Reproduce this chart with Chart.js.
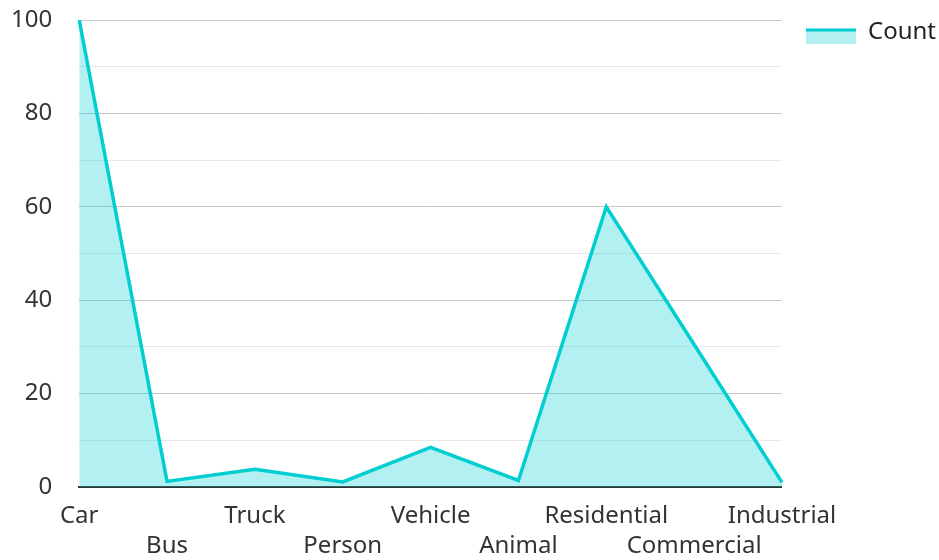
<!DOCTYPE html>
<html>
<head>
<meta charset="utf-8">
<script src="https://cdn.jsdelivr.net/npm/chart.js@4"></script>
<style>
  html, body { margin: 0; padding: 0; background: #fff; }
  #wrap { width: 939px; height: 560px; }
</style>
</head>
<body>
<div id="wrap"><canvas id="countChart" width="939" height="560"></canvas></div>
<script>
// Data
const categories = ['Car', 'Bus', 'Truck', 'Person', 'Vehicle', 'Animal', 'Residential', 'Commercial', 'Industrial'];
const counts = [100, 1.2, 3.8, 1.1, 8.5, 1.4, 60, 30.5, 1];
const seriesName = 'Count';

const lineColor = '#00CED1';
const fillColor = 'rgba(0, 206, 209, 0.3)';

// legend swatch: light fill with a thick line on top
// (blank space on the left and top to place it like the reference)
const swatch = document.createElement('canvas');
swatch.width = 74;
swatch.height = 23;
const sctx = swatch.getContext('2d');
sctx.fillStyle = fillColor;
sctx.fillRect(24, 8, 50, 15);
sctx.fillStyle = lineColor;
sctx.fillRect(24, 8, 50, 3);

Chart.defaults.font.family = '"Noto Sans", "Open Sans", sans-serif';
Chart.defaults.color = '#333';

new Chart(document.getElementById('countChart'), {
    type: 'line',
    data: {
        labels: categories,
        datasets: [{
            label: seriesName,
            data: counts,
            borderColor: lineColor,
            backgroundColor: fillColor,
            borderWidth: 3.5,
            fill: 'origin',
            pointRadius: 0,
            tension: 0
        }]
    },
    options: {
        responsive: false,
        animation: false,
        layout: { padding: { top: 20, right: -7, left: 11, bottom: 0 } },
        plugins: {
            legend: {
                position: 'right',
                align: 'start',
                labels: {
                    font: { size: 24 },
                    color: '#222',
                    usePointStyle: true,
                    pointStyle: swatch,
                    pointStyleWidth: 74,
                    padding: 0
                }
            },
            tooltip: { enabled: false }
        },
        scales: {
            x: {
                offset: false,
                grid: { display: false, drawTicks: false },
                border: { display: true, color: '#333', width: 2 },
                afterFit: (scale) => { scale.height = 73; },
                ticks: {
                    autoSkip: false,
                    maxRotation: 0,
                    font: { size: 24, lineHeight: 1.25 },
                    padding: 14,
                    callback: function (value, index) {
                        const name = categories[index];
                        return index % 2 ? ['', name] : name;
                    }
                }
            },
            y: {
                min: 0,
                max: 100,
                border: { display: false },
                grid: {
                    drawTicks: true,
                    tickLength: 27,
                    tickColor: 'rgba(0,0,0,0)',
                    lineWidth: 1,
                    color: (ctx) => (ctx.tick && ctx.tick.value % 20 === 0) ? '#c8c8c8' : '#e8e8e8'
                },
                ticks: {
                    stepSize: 10,
                    autoSkip: false,
                    padding: 0,
                    font: { size: 24 },
                    callback: (v) => v % 20 === 0 ? v : ''
                }
            }
        }
    }
});
</script>
</body>
</html>
